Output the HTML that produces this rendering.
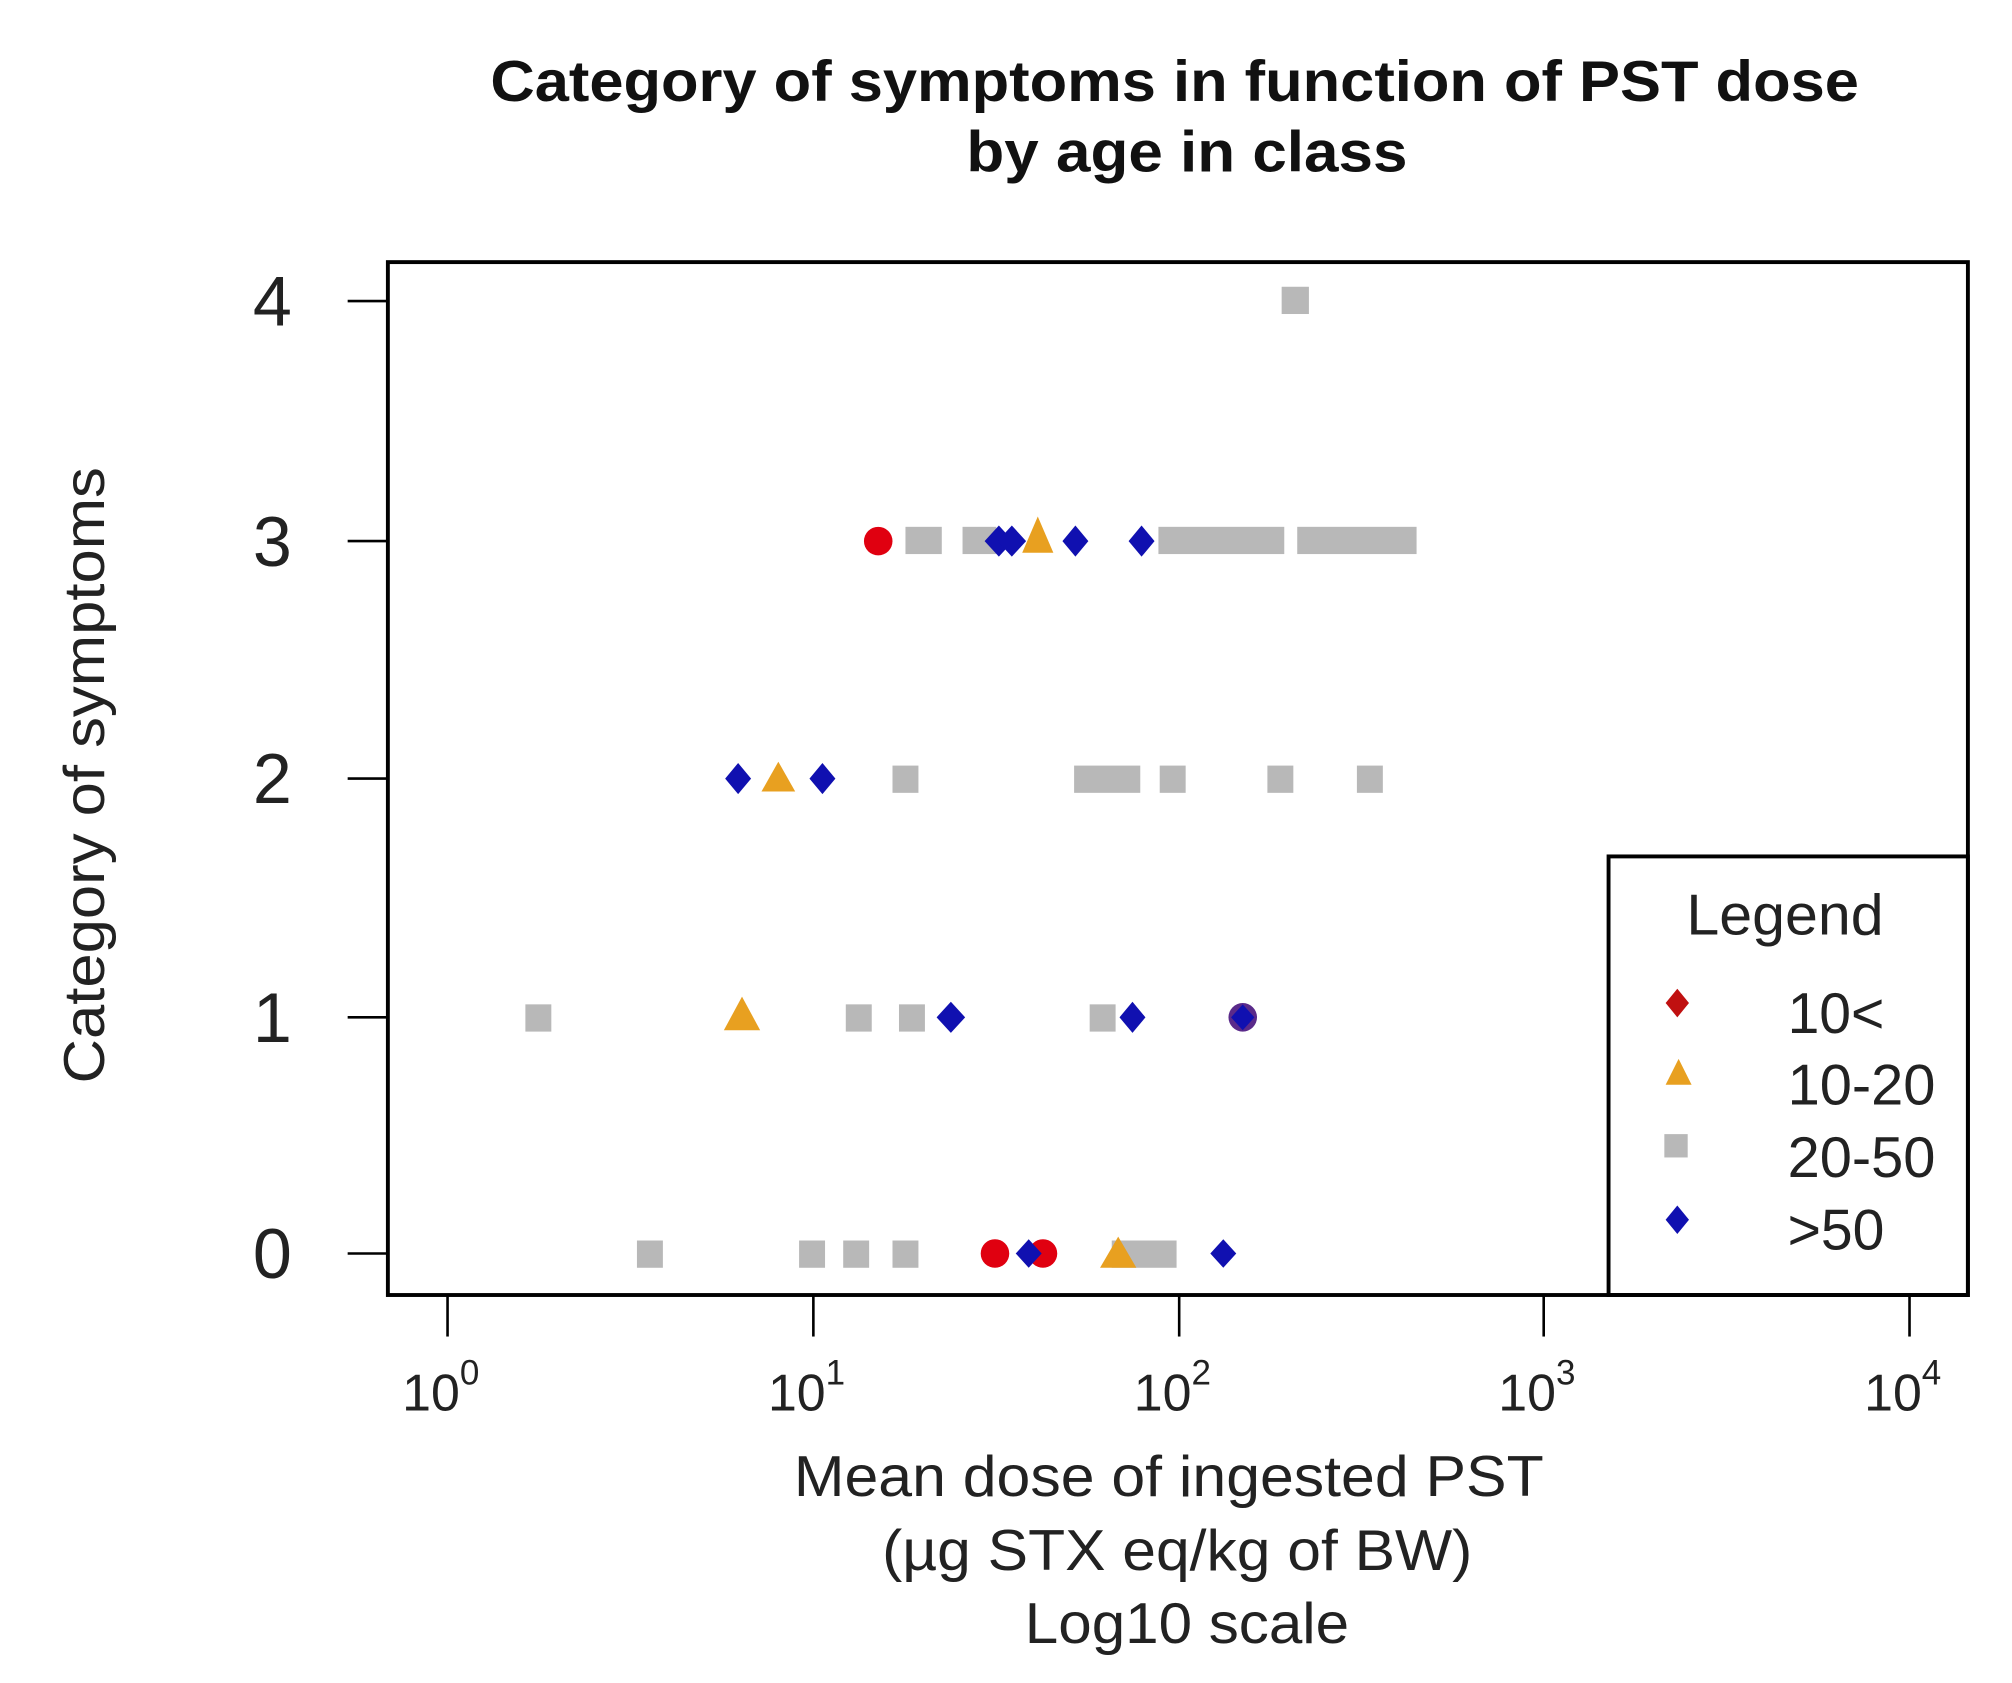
<!DOCTYPE html>
<html><head><meta charset="utf-8"><style>html,body{margin:0;padding:0;background:#fff}svg{display:block}</style></head>
<body>
<svg width="2012" height="1683" viewBox="0 0 1551 1297" preserveAspectRatio="none" xmlns="http://www.w3.org/2000/svg" font-family="Liberation Sans, sans-serif">
<rect width="1551" height="1297" fill="#fff"/>
<g font-weight="bold" font-size="44" fill="#111">
<text x="378" y="78" textLength="1055" lengthAdjust="spacingAndGlyphs">Category of symptoms in function of PST dose</text>
<text x="745" y="132" textLength="340" lengthAdjust="spacingAndGlyphs">by age in class</text>
</g>
<rect x="299" y="202" width="1218" height="796" fill="none" stroke="#000" stroke-width="3"/>
<g stroke="#000" stroke-width="2">
<line x1="268" y1="232" x2="299" y2="232"/><line x1="268" y1="417" x2="299" y2="417"/><line x1="268" y1="600" x2="299" y2="600"/><line x1="268" y1="784" x2="299" y2="784"/><line x1="268" y1="966" x2="299" y2="966"/>
<line x1="345" y1="998" x2="345" y2="1030"/><line x1="627" y1="998" x2="627" y2="1030"/><line x1="909" y1="998" x2="909" y2="1030"/><line x1="1190" y1="998" x2="1190" y2="1030"/><line x1="1472" y1="998" x2="1472" y2="1030"/>
</g>
<g font-size="54" text-anchor="middle" fill="#222">
<text x="210" y="251">4</text><text x="210" y="436">3</text><text x="210" y="619">2</text><text x="210" y="803">1</text><text x="210" y="985">0</text>
</g>
<g font-size="40" fill="#222">
<text x="310" y="1087">10<tspan dy="-20" font-size="27">0</tspan></text>
<text x="592" y="1087">10<tspan dy="-20" font-size="27">1</tspan></text>
<text x="874" y="1087">10<tspan dy="-20" font-size="27">2</tspan></text>
<text x="1155" y="1087">10<tspan dy="-20" font-size="27">3</tspan></text>
<text x="1437" y="1087">10<tspan dy="-20" font-size="27">4</tspan></text>
</g>
<g font-size="44" fill="#222">
<text x="612" y="1153" textLength="578" lengthAdjust="spacingAndGlyphs">Mean dose of ingested PST</text>
<text x="680" y="1210" textLength="455" lengthAdjust="spacingAndGlyphs">(µg STX eq/kg of BW)</text>
<text x="790" y="1266" textLength="250" lengthAdjust="spacingAndGlyphs">Log10 scale</text>
<text transform="translate(80,835) rotate(-90)" textLength="475" lengthAdjust="spacingAndGlyphs">Category of symptoms</text>
</g>
<g fill="#b8b8b8">
<rect x="988" y="221" width="21" height="21"/>
<rect x="698" y="406" width="28" height="21"/><rect x="742" y="406" width="26" height="21"/><rect x="893" y="406" width="97" height="21"/><rect x="1000" y="406" width="92" height="21"/>
<rect x="688" y="590" width="20" height="21"/><rect x="828" y="590" width="51" height="21"/><rect x="894" y="590" width="20" height="21"/><rect x="977" y="590" width="20" height="21"/><rect x="1046" y="590" width="20" height="21"/>
<rect x="405" y="774" width="20" height="21"/><rect x="652" y="774" width="20" height="21"/><rect x="693" y="774" width="20" height="21"/><rect x="840" y="774" width="20" height="21"/>
<rect x="491" y="956" width="20" height="21"/><rect x="616" y="956" width="20" height="21"/><rect x="650" y="956" width="20" height="21"/><rect x="688" y="956" width="20" height="21"/><rect x="857" y="956" width="50" height="21"/>
<rect x="1283" y="874" width="18" height="18"/>
</g>
<g fill="#e8a020">
<polygon points="800,398 788,426 812,426"/><polygon points="600,587 587,610 613,610"/><polygon points="572,768 558,794 586,794"/><polygon points="862,953 848,977 876,977"/>
<polygon points="1294,816 1284,836 1304,836"/>
</g>
<g fill="#e00010">
<circle cx="677" cy="417" r="11"/><circle cx="767" cy="966" r="11"/><circle cx="804" cy="966" r="11"/>
</g>
<circle cx="958" cy="784" r="11" fill="#5a2a8a"/>
<path d="M1293,762 l9,11 -9,11 -9,-11z" fill="#c01010"/>
<g fill="#1010b0">
<path d="M770,405 l11,12 -11,12 -11,-12z"/><path d="M780,405 l11,12 -11,12 -11,-12z"/><path d="M829,405 l10,12 -10,12 -10,-12z"/><path d="M880,405 l10,12 -10,12 -10,-12z"/>
<path d="M569,588 l10,12 -10,12 -10,-12z"/><path d="M634,588 l10,12 -10,12 -10,-12z"/>
<path d="M733,772 l11,12 -11,12 -11,-12z"/><path d="M873,772 l10,12 -10,12 -10,-12z"/><path d="M958,774 l9,10 -9,10 -9,-10z"/>
<path d="M793,955 l10,11 -10,11 -10,-11z"/><path d="M943,955 l10,11 -10,11 -10,-11z"/>
<path d="M1293,929 l9,11 -9,11 -9,-11z"/>
</g>
<rect x="1240" y="660" width="277" height="338" fill="none" stroke="#000" stroke-width="3"/>
<g font-size="44" fill="#222">
<text x="1300" y="720" textLength="152" lengthAdjust="spacingAndGlyphs">Legend</text>
<text x="1378" y="796">10&lt;</text>
<text x="1378" y="851" textLength="114" lengthAdjust="spacingAndGlyphs">10-20</text>
<text x="1378" y="907" textLength="114" lengthAdjust="spacingAndGlyphs">20-50</text>
<text x="1378" y="963">&gt;50</text>
</g>
</svg>
</body></html>
